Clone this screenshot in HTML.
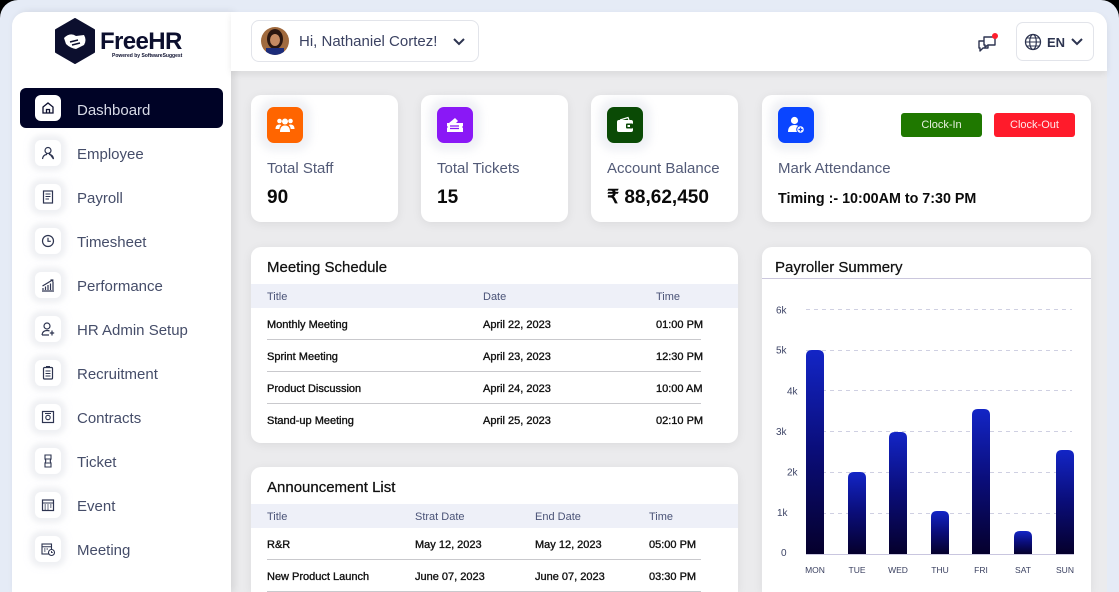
<!DOCTYPE html>
<html><head><meta charset="utf-8">
<style>
*{margin:0;padding:0;box-sizing:border-box}
html,body{width:1119px;height:592px;overflow:hidden;background:#000}
body{font-family:"Liberation Sans",Arial,sans-serif;position:relative}
.abs{position:absolute}
#frame{position:absolute;left:0;top:0;width:1119px;height:592px;background:#e5ebf6;border-radius:18px 18px 0 0}
#main{position:absolute;left:231px;top:12px;width:876px;height:580px;background:#ebebed;border-top-right-radius:14px}
#side{position:absolute;left:12px;top:12px;width:219px;height:580px;background:#fff;border-top-left-radius:14px;box-shadow:3px 0 8px rgba(0,0,0,0.10)}
#hdr{position:absolute;left:231px;top:12px;width:876px;height:59px;background:#fff;border-top-right-radius:14px;box-shadow:0 3px 7px rgba(0,0,0,0.08)}
.card{position:absolute;background:#fff;border-radius:10px;box-shadow:0 2px 10px rgba(0,0,0,0.07)}
.nav{position:absolute;left:23px;width:200px;height:40px}
.nav .ic{position:absolute;left:12px;top:7px;width:26px;height:26px;border-radius:6px;background:#fff;box-shadow:0 0 6px 5px rgba(225,227,233,0.55)}
.nav .ic svg{position:absolute;left:5px;top:5px}
.nav .t{position:absolute;left:54px;top:13px;font-size:15px;line-height:18px;color:#454d69;white-space:nowrap}
.lbl{position:absolute;font-size:15px;line-height:18px;color:#525a77;white-space:nowrap}
.val{position:absolute;font-size:19px;line-height:22px;font-weight:bold;color:#0a0a0a;white-space:nowrap}
.sq{position:absolute;width:36px;height:36px;border-radius:7px;box-shadow:0 0 8px 8px rgba(230,232,238,0.6)}
.sq svg{position:absolute;left:8px;top:8px}
.ttl{position:absolute;font-size:15px;line-height:18px;color:#111;white-space:nowrap;-webkit-text-stroke:0.25px #111}
.th{position:absolute;font-size:11px;line-height:13px;color:#4a5377;white-space:nowrap}
.td{position:absolute;font-size:11px;line-height:13px;color:#111;white-space:nowrap;-webkit-text-stroke:0.35px #111}
.sep{position:absolute;left:267px;width:434px;height:1px;background:#c9c9cd}
.band{position:absolute;left:251px;width:487px;height:24px;background:#eef0f8}
</style></head><body>
<div id="frame"></div>
<div id="main"></div>
<div id="side"></div>
<div id="hdr"></div>

<!-- Logo -->
<svg class="abs" style="left:54px;top:18px" width="42" height="46" viewBox="0 0 42 46">
<polygon points="21,1 40,12 40,34 21,45 2,34 2,12" fill="#0c0f2e" stroke="#0c0f2e" stroke-width="2" stroke-linejoin="round"/>
<path d="M10 20 Q16 14 22 18 L30 17 Q33 22 30 27 L22 31 Q16 30 12 26 Z" fill="#fff"/>
<path d="M16 24 L24 22 M18 27 L26 25" stroke="#0c0f2e" stroke-width="1.5"/>
</svg>
<div class="abs" style="left:100px;top:28px;font-size:24px;line-height:28px;font-weight:bold;color:#0c0f2e;letter-spacing:-0.6px">FreeHR</div>
<div class="abs" style="left:112px;top:53px;font-size:5px;line-height:6px;font-weight:bold;color:#0c0f2e">Powered by SoftwareSuggest</div>

<!-- Nav -->
<div class="abs" style="left:20px;top:88px;width:203px;height:40px;background:#000326;border-radius:6px"></div>
<div class="abs" style="left:35px;top:95px;width:26px;height:26px;background:#fff;border-radius:6px"></div>
<svg class="abs" style="left:41px;top:101px" width="14" height="14" viewBox="0 0 14 14"><path d="M2 6 L7 2 L12 6 V12 H2 Z M5.5 12 V8.5 H8.5 V12" fill="none" stroke="#0c0f2e" stroke-width="1.3"/></svg>
<div class="abs" style="left:77px;top:102px;font-size:15px;line-height:18px;color:#d7dae6">Dashboard</div>

<div class="nav" style="top:133px"><div class="ic"><svg width="16" height="16" viewBox="0 0 16 16"><circle cx="8" cy="5.5" r="3" fill="none" stroke="#2d3450" stroke-width="1.2"/><path d="M2.5 14 Q3 10 6.5 9.5 L6.5 8.5 M9.5 8.5 L9.5 9.5 Q13 10 13.5 14 Z" fill="none" stroke="#2d3450" stroke-width="1.2"/></svg></div><div class="t">Employee</div></div>
<div class="nav" style="top:177px"><div class="ic"><svg width="16" height="16" viewBox="0 0 16 16"><rect x="3.5" y="2" width="9" height="12" fill="none" stroke="#2d3450" stroke-width="1.2"/><path d="M5.5 5H10.5M5.5 7.5H10.5M5.5 10H9" stroke="#2d3450" stroke-width="1"/></svg></div><div class="t">Payroll</div></div>
<div class="nav" style="top:221px"><div class="ic"><svg width="16" height="16" viewBox="0 0 16 16"><circle cx="8" cy="8" r="5.5" fill="none" stroke="#2d3450" stroke-width="1.2"/><path d="M8 4.8V8.3H10.8" fill="none" stroke="#2d3450" stroke-width="1.2"/></svg></div><div class="t">Timesheet</div></div>
<div class="nav" style="top:265px"><div class="ic"><svg width="16" height="16" viewBox="0 0 16 16"><path d="M2 14H14M3 13V11M5.5 13V9.5M8 13V8M10.5 13V6.5M13 13V5M2.5 9 L12.5 3 M10.5 3H12.8V5" fill="none" stroke="#2d3450" stroke-width="1.2"/></svg></div><div class="t">Performance</div></div>
<div class="nav" style="top:309px"><div class="ic"><svg width="16" height="16" viewBox="0 0 16 16"><circle cx="7" cy="5" r="3" fill="none" stroke="#2d3450" stroke-width="1.2"/><path d="M2 14 Q2.5 9.5 7 9.5 Q8.5 9.5 9.5 10 M2 14H9 M12 9.5V14.5M9.8 12H14.2" fill="none" stroke="#2d3450" stroke-width="1.2"/></svg></div><div class="t">HR Admin Setup</div></div>
<div class="nav" style="top:353px"><div class="ic"><svg width="16" height="16" viewBox="0 0 16 16"><rect x="3.5" y="2.5" width="9" height="11.5" rx="1" fill="none" stroke="#2d3450" stroke-width="1.2"/><path d="M5.5 6H10.5M5.5 8.5H10.5M5.5 11H10.5M6.5 2.5V1.5H9.5V2.5" fill="none" stroke="#2d3450" stroke-width="1"/></svg></div><div class="t">Recruitment</div></div>
<div class="nav" style="top:397px"><div class="ic"><svg width="16" height="16" viewBox="0 0 16 16"><rect x="2.5" y="2.5" width="11" height="11" fill="none" stroke="#2d3450" stroke-width="1.2"/><circle cx="8" cy="8.5" r="2.2" fill="none" stroke="#2d3450" stroke-width="1.1"/><path d="M5 4.5H11" stroke="#2d3450"/></svg></div><div class="t">Contracts</div></div>
<div class="nav" style="top:441px"><div class="ic"><svg width="16" height="16" viewBox="0 0 16 16"><path d="M5 2H11V6 Q9.5 8 11 10V14H5V10 Q6.5 8 5 6Z M5 6H11M5 10H11" fill="none" stroke="#2d3450" stroke-width="1.1"/></svg></div><div class="t">Ticket</div></div>
<div class="nav" style="top:485px"><div class="ic"><svg width="16" height="16" viewBox="0 0 16 16"><rect x="2.5" y="3" width="11" height="10.5" fill="none" stroke="#2d3450" stroke-width="1.2"/><path d="M2.5 6H13.5M4.5 8H6M7.3 8H8.7M10 8H11.5M4.5 10H6M7.3 10H8.7M10 10H11.5M4.5 12H6M7.3 12H8.7" stroke="#2d3450" stroke-width="1"/></svg></div><div class="t">Event</div></div>
<div class="nav" style="top:529px"><div class="ic"><svg width="16" height="16" viewBox="0 0 16 16"><rect x="2" y="3" width="9.5" height="10" fill="none" stroke="#2d3450" stroke-width="1.1"/><path d="M2 5.8H11.5M4 8H5.5M6.5 8H8M4 10H5.5" stroke="#2d3450" stroke-width="1"/><circle cx="11.5" cy="11.5" r="3" fill="#fff" stroke="#2d3450" stroke-width="1.1"/><path d="M11.5 10V11.6H12.8" fill="none" stroke="#2d3450" stroke-width="0.9"/></svg></div><div class="t">Meeting</div></div>

<!-- Header pill -->
<div class="abs" style="left:251px;top:20px;width:228px;height:42px;border:1px solid #e2e4ea;border-radius:8px;background:#fff"></div>
<svg class="abs" style="left:261px;top:27px" width="28" height="28" viewBox="0 0 28 28">
<defs><clipPath id="av"><circle cx="14" cy="14" r="14"/></clipPath></defs>
<g clip-path="url(#av)"><rect width="28" height="28" fill="#a06a3e"/><ellipse cx="14" cy="12" rx="8" ry="10" fill="#2a1610"/><ellipse cx="14" cy="13" rx="5" ry="6" fill="#c58a62"/><rect x="5" y="21" width="18" height="9" fill="#1c2c7a"/></g></svg>
<div class="abs" style="left:299px;top:33px;font-size:15px;line-height:18px;color:#3b4262">Hi, Nathaniel Cortez!</div>
<svg class="abs" style="left:452px;top:37px" width="14" height="10" viewBox="0 0 14 10"><path d="M2 2 L7 7 L12 2" fill="none" stroke="#2d3450" stroke-width="2"/></svg>

<!-- chat icon -->
<svg class="abs" style="left:976px;top:32px" width="24" height="22" viewBox="0 0 24 22">
<path d="M8 5 H19 V13 H12 L9 15 V13 H8 Z" fill="none" stroke="#2d3450" stroke-width="1.4" stroke-linejoin="round"/>
<path d="M8 9 H3 V16 H4 V19 L7 16 H12 V13" fill="none" stroke="#2d3450" stroke-width="1.4" stroke-linejoin="round"/>
<circle cx="19" cy="4" r="3" fill="#ff1e2d"/></svg>
<!-- lang -->
<div class="abs" style="left:1016px;top:22px;width:78px;height:39px;border:1px solid #e2e4ea;border-radius:7px;background:#fff"></div>
<svg class="abs" style="left:1024px;top:33px" width="18" height="18" viewBox="0 0 18 18"><circle cx="9" cy="9" r="7.5" fill="none" stroke="#2d3450" stroke-width="1.3"/><ellipse cx="9" cy="9" rx="3.3" ry="7.5" fill="none" stroke="#2d3450" stroke-width="1.2"/><path d="M1.5 9H16.5M2.8 5H15.2M2.8 13H15.2" stroke="#2d3450" stroke-width="1.1"/></svg>
<div class="abs" style="left:1047px;top:35px;font-size:13px;line-height:15px;font-weight:bold;color:#2d3450">EN</div>
<svg class="abs" style="left:1070px;top:37px" width="14" height="10" viewBox="0 0 14 10"><path d="M2 2 L7 7 L12 2" fill="none" stroke="#2d3450" stroke-width="2"/></svg>

<!-- Top cards -->
<div class="card" style="left:251px;top:95px;width:147px;height:127px"></div>
<div class="card" style="left:421px;top:95px;width:147px;height:127px"></div>
<div class="card" style="left:591px;top:95px;width:147px;height:127px"></div>
<div class="card" style="left:762px;top:95px;width:329px;height:127px"></div>

<div class="sq" style="left:267px;top:107px;background:#ff6500"><svg width="20" height="20" viewBox="0 0 20 20"><circle cx="10" cy="6.5" r="3" fill="#fff"/><circle cx="4.5" cy="6" r="2.3" fill="#fff"/><circle cx="15.5" cy="6" r="2.3" fill="#fff"/><path d="M5 17 Q5 10.5 10 10.5 Q15 10.5 15 17Z" fill="#fff"/><path d="M0.5 14 Q0.5 9.5 4.5 9.5 Q5.5 9.5 6.3 10 Q4.5 11.5 4.3 14Z M19.5 14 Q19.5 9.5 15.5 9.5 Q14.5 9.5 13.7 10 Q15.5 11.5 15.7 14Z" fill="#fff"/></svg></div>
<div class="sq" style="left:437px;top:107px;background:#8a18f6"><svg width="20" height="20" viewBox="0 0 20 20"><path d="M4 8 L10 3 L13 6 L11 8Z" fill="#fff"/><path d="M2 8 H18 V11 Q16.5 12 18 13 V17 H2 V13 Q3.5 12 2 11Z" fill="#fff"/><path d="M5 11H14M5 13.5H14" stroke="#8a18f6" stroke-width="1.3"/></svg></div>
<div class="sq" style="left:607px;top:107px;background:#0a4a05"><svg width="20" height="20" viewBox="0 0 20 20"><path d="M5 5 L13 2.5 L14 5" fill="none" stroke="#fff" stroke-width="1.2"/><rect x="2" y="5" width="16" height="12" rx="2" fill="#fff"/><rect x="11" y="8.5" width="7" height="5" rx="1" fill="#0a4a05"/><rect x="12.5" y="10" width="2.5" height="2" fill="#fff"/></svg></div>
<div class="sq" style="left:778px;top:107px;background:#0a45ff"><svg width="20" height="20" viewBox="0 0 20 20"><circle cx="8.5" cy="5.5" r="3.6" fill="#fff"/><path d="M2 17 Q2 10 8.5 10 Q11 10 12.5 11 L12.5 17Z" fill="#fff"/><circle cx="14.5" cy="14.5" r="3.8" fill="#fff" stroke="#0a45ff" stroke-width="1"/><path d="M14.5 12.5V16.5M12.5 14.5H16.5" stroke="#0a45ff" stroke-width="1.3"/></svg></div>

<div class="lbl" style="left:267px;top:160px">Total Staff</div>
<div class="lbl" style="left:437px;top:160px">Total Tickets</div>
<div class="lbl" style="left:607px;top:160px">Account Balance</div>
<div class="lbl" style="left:778px;top:160px">Mark Attendance</div>
<div class="val" style="left:267px;top:187px">90</div>
<div class="val" style="left:437px;top:187px">15</div>
<div class="val" style="left:607px;top:187px">₹ 88,62,450</div>
<div class="abs" style="left:778px;top:190px;font-size:14.3px;line-height:18px;font-weight:bold;color:#0a0a0a;white-space:nowrap">Timing :- 10:00AM to 7:30 PM</div>

<div class="abs" style="left:901px;top:113px;width:81px;height:24px;background:#1f7800;border-radius:3px;color:#e8f0e0;font-size:11px;line-height:25px;text-align:center">Clock-In</div>
<div class="abs" style="left:994px;top:113px;width:81px;height:24px;background:#ff1b2b;border-radius:3px;color:#fde8ea;font-size:11px;line-height:25px;text-align:center">Clock-Out</div>

<!-- Meeting schedule -->
<div class="card" style="left:251px;top:247px;width:487px;height:196px"></div>
<div class="ttl" style="left:267px;top:259px">Meeting Schedule</div>
<div class="band" style="top:284px"></div>
<div class="th" style="left:267px;top:291px">Title</div>
<div class="th" style="left:483px;top:291px">Date</div>
<div class="th" style="left:656px;top:291px">Time</div>
<div class="td" style="left:267px;top:319px">Monthly Meeting</div><div class="td" style="left:483px;top:319px">April 22, 2023</div><div class="td" style="left:656px;top:319px">01:00 PM</div>
<div class="sep" style="top:339px"></div>
<div class="td" style="left:267px;top:351px">Sprint Meeting</div><div class="td" style="left:483px;top:351px">April 23, 2023</div><div class="td" style="left:656px;top:351px">12:30 PM</div>
<div class="sep" style="top:371px"></div>
<div class="td" style="left:267px;top:383px">Product Discussion</div><div class="td" style="left:483px;top:383px">April 24, 2023</div><div class="td" style="left:656px;top:383px">10:00 AM</div>
<div class="sep" style="top:403px"></div>
<div class="td" style="left:267px;top:415px">Stand-up Meeting</div><div class="td" style="left:483px;top:415px">April 25, 2023</div><div class="td" style="left:656px;top:415px">02:10 PM</div>

<!-- Announcement -->
<div class="card" style="left:251px;top:467px;width:487px;height:125px;border-radius:10px 10px 0 0"></div>
<div class="ttl" style="left:267px;top:479px">Announcement List</div>
<div class="band" style="top:504px"></div>
<div class="th" style="left:267px;top:511px">Title</div>
<div class="th" style="left:415px;top:511px">Strat Date</div>
<div class="th" style="left:535px;top:511px">End Date</div>
<div class="th" style="left:649px;top:511px">Time</div>
<div class="td" style="left:267px;top:539px">R&amp;R</div><div class="td" style="left:415px;top:539px">May 12, 2023</div><div class="td" style="left:535px;top:539px">May 12, 2023</div><div class="td" style="left:649px;top:539px">05:00 PM</div>
<div class="sep" style="top:559px"></div>
<div class="td" style="left:267px;top:571px">New Product Launch</div><div class="td" style="left:415px;top:571px">June 07, 2023</div><div class="td" style="left:535px;top:571px">June 07, 2023</div><div class="td" style="left:649px;top:571px">03:30 PM</div>
<div class="sep" style="top:591px"></div>

<!-- Payroller -->
<div class="card" style="left:762px;top:247px;width:329px;height:345px;border-radius:10px 10px 0 0"></div>
<div class="ttl" style="left:775px;top:259px">Payroller Summery</div>
<div class="abs" style="left:762px;top:278px;width:329px;height:1px;background:#cbc7dd"></div>

<svg class="abs" style="left:0;top:0" width="1119" height="592" viewBox="0 0 1119 592">
<defs><linearGradient id="bg" x1="0" y1="0" x2="0" y2="1"><stop offset="0" stop-color="#1325c6"/><stop offset="0.5" stop-color="#0a0d78"/><stop offset="1" stop-color="#05002c"/></linearGradient></defs>
<g stroke="#cfd0e2" stroke-width="1" stroke-dasharray="4 4">
<line x1="806" y1="309.5" x2="1072" y2="309.5"/>
<line x1="806" y1="350.5" x2="1072" y2="350.5"/>
<line x1="806" y1="390.5" x2="1072" y2="390.5"/>
<line x1="806" y1="431.5" x2="1072" y2="431.5"/>
<line x1="806" y1="472.5" x2="1072" y2="472.5"/>
<line x1="806" y1="513.5" x2="1072" y2="513.5"/>
</g>
<g fill="url(#bg)">
<path d="M806 554V356Q806 350 812 350H818Q824 350 824 356V554Z"/>
<path d="M848 554V478Q848 472 854 472H860Q866 472 866 478V554Z"/>
<path d="M889 554V438Q889 432 895 432H901Q907 432 907 438V554Z"/>
<path d="M931 554V517Q931 511 937 511H943Q949 511 949 517V554Z"/>
<path d="M972 554V415Q972 409 978 409H984Q990 409 990 415V554Z"/>
<path d="M1014 554V537Q1014 531 1020 531H1026Q1032 531 1032 537V554Z"/>
<path d="M1056 554V456Q1056 450 1062 450H1068Q1074 450 1074 456V554Z"/>
</g>
<line x1="806" y1="554.5" x2="1074" y2="554.5" stroke="#c9c6df" stroke-width="1"/>
<g font-family="Liberation Sans, Arial, sans-serif" font-size="10" fill="#3d4466">
<text x="776" y="313.5">6k</text>
<text x="776" y="353.5">5k</text>
<text x="787" y="394.5">4k</text>
<text x="776" y="435">3k</text>
<text x="787" y="475.5">2k</text>
<text x="777" y="516">1k</text>
<text x="781" y="556">0</text>
</g>
<g font-family="Liberation Sans, Arial, sans-serif" font-size="8.5" fill="#3a4060" text-anchor="middle">
<text x="815" y="573">MON</text>
<text x="857" y="573">TUE</text>
<text x="898" y="573">WED</text>
<text x="940" y="573">THU</text>
<text x="981" y="573">FRI</text>
<text x="1023" y="573">SAT</text>
<text x="1065" y="573">SUN</text>
</g>
</svg>
</body></html>
